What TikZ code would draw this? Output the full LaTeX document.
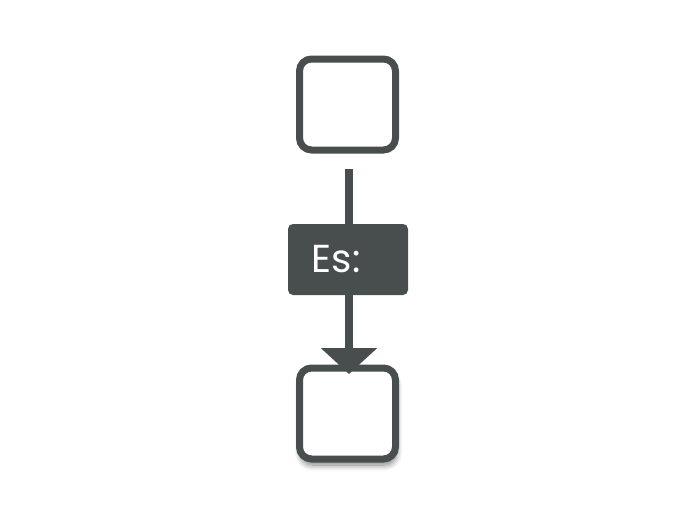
\documentclass[tikz,border=0pt]{standalone}
\usepackage{fontspec}
\setmainfont{Poppins}
\usetikzlibrary{arrows.meta,shadows.blur}
\definecolor{dk}{RGB}{72,78,78}
\begin{document}
\begin{tikzpicture}[x=1pt,y=1pt,
  box/.style={draw=dk, line width=7pt, fill=white, rounded corners=12pt,
    minimum width=96pt, minimum height=91pt, inner sep=0pt, outer sep=0pt},
  lbl/.style={fill=dk, text=white, rounded corners=5pt, text width=74pt,
    inner xsep=23pt, inner ysep=0pt, minimum height=71pt, align=left,
    font=\fontsize{39}{44}\selectfont},
  conn/.style={draw=dk, line width=8pt, -{Triangle[width=55pt,length=26pt]}}]
\useasboundingbox (0,0) rectangle (696,-520);
\node[box] (top) at (347.5,-104.5) {};
\node[box, blur shadow={shadow xshift=1pt, shadow yshift=-6pt, shadow opacity=50, shadow blur steps=8, shadow blur radius=6pt}] (bot) at (347.5,-413.5) {};
\draw[conn, shorten <=19pt, shorten >=-6pt] (top.south) ++(1.5,0) coordinate (s) (s) -- (s |- bot.north);
\node[lbl] (es) at (348,-259.5) {Es{\kern1pt}:};
\end{tikzpicture}
\end{document}
